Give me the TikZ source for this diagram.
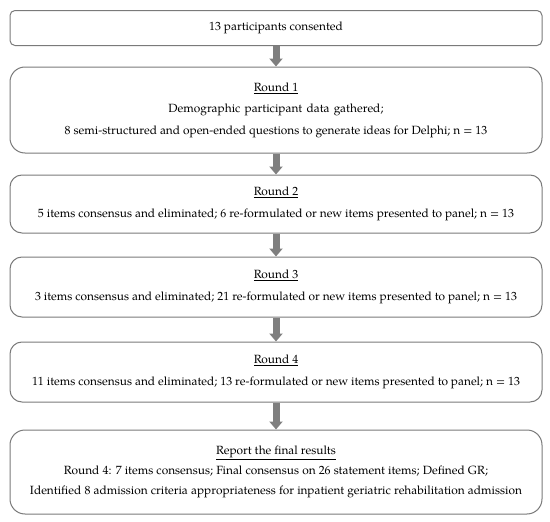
\documentclass[tikz,border=0pt]{standalone}
\usepackage{fontspec}
\setmainfont{TeX Gyre Pagella}
\usetikzlibrary{arrows.meta}
\definecolor{boxline}{HTML}{7A7A7A}
\definecolor{arrowgray}{HTML}{7F7F7F}
\tikzset{
  stepbox/.style={draw=boxline, line width=1pt, rounded corners=#1, minimum width=532pt, inner sep=0pt, align=center, font=\fontsize{11.9}{21.5}\selectfont},
  flowarrow/.style={draw=arrowgray, line width=7pt, -{Triangle[width=13pt,length=8pt]}, shorten >=0pt}
}
\begin{document}
\begin{tikzpicture}[x=1pt,y=-1pt]
\useasboundingbox (0,0) rectangle (550,522);
\node[stepbox=5pt, minimum height=35pt] (b0) at (276,28) {13 participants consented};
\node[stepbox=15pt, minimum height=86pt] (b1) at (276,110) {\underline{Round 1}\\\makebox[215pt][s]{Demographic participant data gathered;}\\8 semi-structured and open-ended questions to generate ideas for Delphi; n = 13};
\node[stepbox=12pt, minimum height=58pt] (b2) at (276,204) {\underline{Round 2}\\5 items consensus and eliminated; 6 re-formulated or new items presented to panel; n = 13};
\node[stepbox=12pt, minimum height=60pt] (b3) at (276,287) {\underline{Round 3}\\3 items consensus and eliminated; 21 re-formulated or new items presented to panel; n = 13};
\node[stepbox=12pt, minimum height=60pt] (b4) at (276,372) {\underline{Round 4}\\11 items consensus and eliminated; 13 re-formulated or new items presented to panel; n = 13};
\node[stepbox=15pt, minimum height=84pt, font=\fontsize{11.9}{20}\selectfont] (b5) at (276,472) {\underline{Report the final results}\\\makebox[424pt][s]{Round 4: 7 items consensus; Final consensus on 26 statement items; Defined GR;}\\\makebox[492pt][s]{Identified 8 admission criteria appropriateness for inpatient geriatric rehabilitation admission}};
\draw[flowarrow] (b0.south) -- (b1.north);
\draw[flowarrow] (b1.south) -- (b2.north);
\draw[flowarrow] (b2.south) -- (b3.north);
\draw[flowarrow] (b3.south) -- (b4.north);
\draw[flowarrow] (b4.south) -- (b5.north);
\end{tikzpicture}
\end{document}
